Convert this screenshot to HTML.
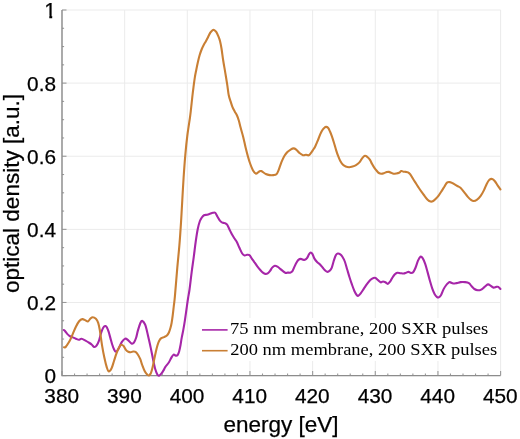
<!DOCTYPE html><html><head><meta charset="utf-8"><style>html,body{margin:0;padding:0;background:#fff}svg{display:block}</style></head><body>
<svg width="520" height="439" viewBox="0 0 520 439">
<rect width="520" height="439" fill="#fff"/>
<g stroke="#ebebeb" stroke-width="1"><line x1="62.00" y1="10.0" x2="62.00" y2="375.6"/><line x1="124.66" y1="10.0" x2="124.66" y2="375.6"/><line x1="187.31" y1="10.0" x2="187.31" y2="375.6"/><line x1="249.97" y1="10.0" x2="249.97" y2="375.6"/><line x1="312.63" y1="10.0" x2="312.63" y2="375.6"/><line x1="375.29" y1="10.0" x2="375.29" y2="375.6"/><line x1="437.94" y1="10.0" x2="437.94" y2="375.6"/><line x1="500.60" y1="10.0" x2="500.60" y2="375.6"/><line x1="62.0" y1="375.60" x2="500.6" y2="375.60"/><line x1="62.0" y1="302.48" x2="500.6" y2="302.48"/><line x1="62.0" y1="229.36" x2="500.6" y2="229.36"/><line x1="62.0" y1="156.24" x2="500.6" y2="156.24"/><line x1="62.0" y1="83.12" x2="500.6" y2="83.12"/><line x1="62.0" y1="10.00" x2="500.6" y2="10.00"/></g>
<g stroke="#999" stroke-width="1.1"><line x1="62.0" y1="375.60" x2="66.5" y2="375.60"/><line x1="62.0" y1="357.32" x2="64.1" y2="357.32"/><line x1="62.0" y1="339.04" x2="64.1" y2="339.04"/><line x1="62.0" y1="320.76" x2="64.1" y2="320.76"/><line x1="62.0" y1="302.48" x2="66.5" y2="302.48"/><line x1="62.0" y1="284.20" x2="64.1" y2="284.20"/><line x1="62.0" y1="265.92" x2="64.1" y2="265.92"/><line x1="62.0" y1="247.64" x2="64.1" y2="247.64"/><line x1="62.0" y1="229.36" x2="66.5" y2="229.36"/><line x1="62.0" y1="211.08" x2="64.1" y2="211.08"/><line x1="62.0" y1="192.80" x2="64.1" y2="192.80"/><line x1="62.0" y1="174.52" x2="64.1" y2="174.52"/><line x1="62.0" y1="156.24" x2="66.5" y2="156.24"/><line x1="62.0" y1="137.96" x2="64.1" y2="137.96"/><line x1="62.0" y1="119.68" x2="64.1" y2="119.68"/><line x1="62.0" y1="101.40" x2="64.1" y2="101.40"/><line x1="62.0" y1="83.12" x2="66.5" y2="83.12"/><line x1="62.0" y1="64.84" x2="64.1" y2="64.84"/><line x1="62.0" y1="46.56" x2="64.1" y2="46.56"/><line x1="62.0" y1="28.28" x2="64.1" y2="28.28"/><line x1="62.0" y1="10.00" x2="66.5" y2="10.00"/><line x1="62.00" y1="375.6" x2="62.00" y2="371.1"/><line x1="74.53" y1="375.6" x2="74.53" y2="373.5"/><line x1="87.06" y1="375.6" x2="87.06" y2="373.5"/><line x1="99.59" y1="375.6" x2="99.59" y2="373.5"/><line x1="112.13" y1="375.6" x2="112.13" y2="373.5"/><line x1="124.66" y1="375.6" x2="124.66" y2="371.1"/><line x1="137.19" y1="375.6" x2="137.19" y2="373.5"/><line x1="149.72" y1="375.6" x2="149.72" y2="373.5"/><line x1="162.25" y1="375.6" x2="162.25" y2="373.5"/><line x1="174.78" y1="375.6" x2="174.78" y2="373.5"/><line x1="187.31" y1="375.6" x2="187.31" y2="371.1"/><line x1="199.85" y1="375.6" x2="199.85" y2="373.5"/><line x1="212.38" y1="375.6" x2="212.38" y2="373.5"/><line x1="224.91" y1="375.6" x2="224.91" y2="373.5"/><line x1="237.44" y1="375.6" x2="237.44" y2="373.5"/><line x1="249.97" y1="375.6" x2="249.97" y2="371.1"/><line x1="262.50" y1="375.6" x2="262.50" y2="373.5"/><line x1="275.03" y1="375.6" x2="275.03" y2="373.5"/><line x1="287.57" y1="375.6" x2="287.57" y2="373.5"/><line x1="300.10" y1="375.6" x2="300.10" y2="373.5"/><line x1="312.63" y1="375.6" x2="312.63" y2="371.1"/><line x1="325.16" y1="375.6" x2="325.16" y2="373.5"/><line x1="337.69" y1="375.6" x2="337.69" y2="373.5"/><line x1="350.22" y1="375.6" x2="350.22" y2="373.5"/><line x1="362.75" y1="375.6" x2="362.75" y2="373.5"/><line x1="375.29" y1="375.6" x2="375.29" y2="371.1"/><line x1="387.82" y1="375.6" x2="387.82" y2="373.5"/><line x1="400.35" y1="375.6" x2="400.35" y2="373.5"/><line x1="412.88" y1="375.6" x2="412.88" y2="373.5"/><line x1="425.41" y1="375.6" x2="425.41" y2="373.5"/><line x1="437.94" y1="375.6" x2="437.94" y2="371.1"/><line x1="450.47" y1="375.6" x2="450.47" y2="373.5"/><line x1="463.01" y1="375.6" x2="463.01" y2="373.5"/><line x1="475.54" y1="375.6" x2="475.54" y2="373.5"/><line x1="488.07" y1="375.6" x2="488.07" y2="373.5"/><line x1="500.60" y1="375.6" x2="500.60" y2="371.1"/></g>
<path d="M62.0,10.0 L62.0,375.6 L500.6,375.6" fill="none" stroke="#8c8c8c" stroke-width="1.4"/>
<path d="M63.80,330.00 C64.00,330.17 64.43,330.35 65.00,331.00 C65.57,331.65 66.43,333.07 67.20,333.90 C67.97,334.73 68.67,335.42 69.60,336.00 C70.53,336.58 71.75,336.95 72.80,337.40 C73.85,337.85 74.90,338.30 75.90,338.70 C76.90,339.10 77.87,339.80 78.80,339.80 C79.73,339.80 80.38,338.57 81.50,338.70 C82.62,338.83 84.17,339.88 85.50,340.60 C86.83,341.32 88.43,342.30 89.50,343.00 C90.57,343.70 91.10,344.13 91.90,344.80 C92.70,345.47 93.50,346.90 94.30,347.00 C95.10,347.10 95.90,346.52 96.70,345.40 C97.50,344.28 98.48,341.98 99.10,340.30 C99.72,338.62 99.88,337.03 100.40,335.30 C100.92,333.57 101.60,331.33 102.20,329.90 C102.80,328.47 103.47,327.35 104.00,326.70 C104.53,326.05 104.93,325.90 105.40,326.00 C105.87,326.10 106.27,326.35 106.80,327.30 C107.33,328.25 108.00,329.90 108.60,331.70 C109.20,333.50 109.80,335.97 110.40,338.10 C111.00,340.23 111.58,342.60 112.20,344.50 C112.82,346.40 113.48,348.30 114.10,349.50 C114.72,350.70 115.22,351.75 115.90,351.70 C116.58,351.65 117.20,350.83 118.20,349.20 C119.20,347.57 120.75,343.65 121.90,341.90 C123.05,340.15 124.03,338.97 125.10,338.70 C126.17,338.43 127.23,339.50 128.30,340.30 C129.37,341.10 130.57,343.10 131.50,343.50 C132.43,343.90 133.12,343.70 133.90,342.70 C134.68,341.70 135.55,339.47 136.20,337.50 C136.85,335.53 137.08,333.37 137.80,330.90 C138.52,328.43 139.73,324.37 140.50,322.70 C141.27,321.03 141.63,320.60 142.40,320.90 C143.17,321.20 144.38,322.98 145.10,324.50 C145.82,326.02 146.10,327.63 146.70,330.00 C147.30,332.37 148.00,335.60 148.70,338.70 C149.40,341.80 150.17,345.13 150.90,348.60 C151.63,352.07 152.37,356.05 153.10,359.50 C153.83,362.95 154.57,366.75 155.30,369.30 C156.03,371.85 156.87,373.73 157.50,374.80 C158.13,375.87 158.47,375.88 159.10,375.70 C159.73,375.52 160.57,374.58 161.30,373.70 C162.03,372.82 162.82,371.55 163.50,370.40 C164.18,369.25 164.52,368.12 165.40,366.80 C166.28,365.48 167.80,364.03 168.80,362.50 C169.80,360.97 170.60,358.92 171.40,357.60 C172.20,356.28 172.88,354.93 173.60,354.60 C174.32,354.27 175.03,355.52 175.70,355.60 C176.37,355.68 177.02,355.83 177.60,355.10 C178.18,354.37 178.72,352.85 179.20,351.20 C179.68,349.55 180.08,347.42 180.50,345.20 C180.92,342.98 181.23,340.45 181.70,337.90 C182.17,335.35 182.77,332.83 183.30,329.90 C183.83,326.97 184.37,323.77 184.90,320.30 C185.43,316.83 185.97,312.82 186.50,309.10 C187.03,305.38 187.58,301.35 188.10,298.00 C188.62,294.65 189.00,293.37 189.60,289.00 C190.20,284.63 191.02,277.07 191.70,271.80 C192.38,266.53 193.02,262.53 193.70,257.40 C194.38,252.27 195.12,245.78 195.80,241.00 C196.48,236.22 197.12,232.03 197.80,228.70 C198.48,225.37 199.23,222.87 199.90,221.00 C200.57,219.13 201.12,218.47 201.80,217.50 C202.48,216.53 203.10,215.67 204.00,215.20 C204.90,214.73 206.13,214.97 207.20,214.70 C208.27,214.43 209.47,213.92 210.40,213.60 C211.33,213.28 212.00,212.93 212.80,212.80 C213.60,212.67 214.42,212.15 215.20,212.80 C215.98,213.45 216.72,215.38 217.50,216.70 C218.28,218.02 219.10,219.72 219.90,220.70 C220.70,221.68 221.50,222.20 222.30,222.60 C223.10,223.00 223.90,222.75 224.70,223.10 C225.50,223.45 226.30,223.63 227.10,224.70 C227.90,225.77 228.70,227.90 229.50,229.50 C230.30,231.10 231.10,232.83 231.90,234.30 C232.70,235.77 233.50,237.05 234.30,238.30 C235.10,239.55 235.87,240.27 236.70,241.80 C237.53,243.33 238.38,245.55 239.30,247.50 C240.22,249.45 241.32,252.18 242.20,253.50 C243.08,254.82 243.80,255.18 244.60,255.40 C245.40,255.62 246.20,254.85 247.00,254.80 C247.80,254.75 248.62,254.52 249.40,255.10 C250.18,255.68 250.92,257.18 251.70,258.30 C252.48,259.42 253.17,260.47 254.10,261.80 C255.03,263.13 256.23,264.90 257.30,266.30 C258.37,267.70 259.57,269.15 260.50,270.20 C261.43,271.25 262.10,271.98 262.90,272.60 C263.70,273.22 264.50,273.77 265.30,273.90 C266.10,274.03 266.90,273.90 267.70,273.40 C268.50,272.90 269.35,271.87 270.10,270.90 C270.85,269.93 271.42,268.45 272.20,267.60 C272.98,266.75 273.92,265.95 274.80,265.80 C275.68,265.65 276.58,266.18 277.50,266.70 C278.42,267.22 279.38,268.15 280.30,268.90 C281.22,269.65 282.10,270.52 283.00,271.20 C283.90,271.88 284.90,272.77 285.70,273.00 C286.50,273.23 287.00,272.67 287.80,272.60 C288.60,272.53 289.70,272.90 290.50,272.60 C291.30,272.30 291.92,271.83 292.60,270.80 C293.28,269.77 293.92,267.82 294.60,266.40 C295.28,264.98 296.02,263.43 296.70,262.30 C297.38,261.17 298.02,260.17 298.70,259.60 C299.38,259.03 300.12,258.90 300.80,258.90 C301.48,258.90 302.12,259.45 302.80,259.60 C303.48,259.75 304.20,260.03 304.90,259.80 C305.60,259.57 306.30,259.15 307.00,258.20 C307.70,257.25 308.48,255.05 309.10,254.10 C309.72,253.15 310.13,252.50 310.70,252.50 C311.27,252.50 311.85,253.03 312.50,254.10 C313.15,255.17 313.80,257.53 314.60,258.90 C315.40,260.27 316.40,261.38 317.30,262.30 C318.20,263.22 319.08,263.48 320.00,264.40 C320.92,265.32 321.88,266.73 322.80,267.80 C323.72,268.87 324.70,270.12 325.50,270.80 C326.30,271.48 326.92,271.90 327.60,271.90 C328.28,271.90 328.92,271.48 329.60,270.80 C330.28,270.12 331.02,269.43 331.70,267.80 C332.38,266.17 333.02,263.10 333.70,261.00 C334.38,258.90 335.12,256.45 335.80,255.20 C336.48,253.95 337.05,253.65 337.80,253.50 C338.55,253.35 339.53,253.77 340.30,254.30 C341.07,254.83 341.65,255.50 342.40,256.70 C343.15,257.90 344.00,259.37 344.80,261.50 C345.60,263.63 346.40,266.83 347.20,269.50 C348.00,272.17 348.80,274.97 349.60,277.50 C350.40,280.03 351.20,282.45 352.00,284.70 C352.80,286.95 353.62,289.28 354.40,291.00 C355.18,292.72 356.05,294.20 356.70,295.00 C357.35,295.80 357.63,296.07 358.30,295.80 C358.97,295.53 359.77,294.60 360.70,293.40 C361.63,292.20 362.83,290.18 363.90,288.60 C364.97,287.02 366.03,285.35 367.10,283.90 C368.17,282.45 369.23,280.88 370.30,279.90 C371.37,278.92 372.62,278.32 373.50,278.00 C374.38,277.68 374.92,277.70 375.60,278.00 C376.28,278.30 376.77,279.08 377.60,279.80 C378.43,280.52 379.70,282.02 380.60,282.30 C381.50,282.58 382.20,281.50 383.00,281.50 C383.80,281.50 384.60,281.90 385.40,282.30 C386.20,282.70 387.00,284.03 387.80,283.90 C388.60,283.77 389.42,282.57 390.20,281.50 C390.98,280.43 391.72,278.70 392.50,277.50 C393.28,276.30 394.10,275.10 394.90,274.30 C395.70,273.50 396.37,272.88 397.30,272.70 C398.23,272.52 399.43,273.07 400.50,273.20 C401.57,273.33 402.77,273.58 403.70,273.50 C404.63,273.42 405.30,272.97 406.10,272.70 C406.90,272.43 407.70,271.85 408.50,271.90 C409.30,271.95 410.12,272.95 410.90,273.00 C411.68,273.05 412.45,273.03 413.20,272.20 C413.95,271.37 414.60,269.92 415.40,268.00 C416.20,266.08 417.17,262.58 418.00,260.70 C418.83,258.82 419.60,257.10 420.40,256.70 C421.20,256.30 422.00,257.10 422.80,258.30 C423.60,259.50 424.42,261.63 425.20,263.90 C425.98,266.17 426.72,269.10 427.50,271.90 C428.28,274.70 429.10,277.92 429.90,280.70 C430.70,283.48 431.50,286.35 432.30,288.60 C433.10,290.85 433.90,292.78 434.70,294.20 C435.50,295.62 436.43,296.57 437.10,297.10 C437.77,297.63 438.03,297.75 438.70,297.40 C439.37,297.05 440.30,296.33 441.10,295.00 C441.90,293.67 442.70,290.98 443.50,289.40 C444.30,287.82 445.12,286.57 445.90,285.50 C446.68,284.43 447.55,283.57 448.20,283.00 C448.85,282.43 448.97,282.02 449.80,282.10 C450.63,282.18 452.07,283.33 453.20,283.50 C454.33,283.67 455.35,283.33 456.60,283.10 C457.85,282.87 459.33,282.27 460.70,282.10 C462.07,281.93 463.43,281.93 464.80,282.10 C466.17,282.27 467.77,282.42 468.90,283.10 C470.03,283.78 470.68,285.22 471.60,286.20 C472.52,287.18 473.37,288.32 474.40,289.00 C475.43,289.68 476.67,290.20 477.80,290.30 C478.93,290.40 480.07,290.17 481.20,289.60 C482.33,289.03 483.47,287.77 484.60,286.90 C485.73,286.03 486.97,284.58 488.00,284.40 C489.03,284.22 489.88,285.27 490.80,285.80 C491.72,286.33 492.58,287.42 493.50,287.60 C494.42,287.78 495.50,287.02 496.30,286.90 C497.10,286.78 497.62,286.55 498.30,286.90 C498.98,287.25 500.05,288.65 500.40,289.00" fill="none" stroke="#a626a8" stroke-width="2.1" stroke-linejoin="round" stroke-linecap="round"/>
<path d="M64.00,347.20 C64.20,347.23 64.80,347.62 65.20,347.40 C65.60,347.18 65.67,346.95 66.40,345.90 C67.13,344.85 68.53,343.10 69.60,341.10 C70.67,339.10 71.75,336.30 72.80,333.90 C73.85,331.50 74.85,328.82 75.90,326.70 C76.95,324.58 78.03,322.47 79.10,321.20 C80.17,319.93 81.23,319.23 82.30,319.10 C83.37,318.97 84.57,320.00 85.50,320.40 C86.43,320.80 87.10,321.77 87.90,321.50 C88.70,321.23 89.50,319.52 90.30,318.80 C91.10,318.08 91.77,317.20 92.70,317.20 C93.63,317.20 94.98,317.87 95.90,318.80 C96.82,319.73 97.55,320.93 98.20,322.80 C98.85,324.67 99.17,326.28 99.80,330.00 C100.43,333.72 101.23,340.47 102.00,345.10 C102.77,349.73 103.60,354.08 104.40,357.80 C105.20,361.52 106.07,365.13 106.80,367.40 C107.53,369.67 108.00,371.27 108.80,371.40 C109.60,371.53 110.73,369.93 111.60,368.20 C112.47,366.47 113.22,363.38 114.00,361.00 C114.78,358.62 115.52,356.02 116.30,353.90 C117.08,351.78 117.90,349.82 118.70,348.30 C119.50,346.78 120.30,345.20 121.10,344.80 C121.90,344.40 122.70,345.05 123.50,345.90 C124.30,346.75 125.10,348.92 125.90,349.90 C126.70,350.88 127.50,351.40 128.30,351.80 C129.10,352.20 129.90,352.35 130.70,352.30 C131.50,352.25 132.30,351.58 133.10,351.50 C133.90,351.42 134.72,351.30 135.50,351.80 C136.28,352.30 137.00,353.27 137.80,354.50 C138.60,355.73 139.57,357.45 140.30,359.20 C141.03,360.95 141.43,362.95 142.20,365.00 C142.97,367.05 143.98,369.83 144.90,371.50 C145.82,373.17 146.97,374.35 147.70,375.00 C148.43,375.65 148.77,375.70 149.30,375.40 C149.83,375.10 150.35,374.57 150.90,373.20 C151.45,371.83 152.05,369.48 152.60,367.20 C153.15,364.92 153.67,362.05 154.20,359.50 C154.73,356.95 155.25,354.27 155.80,351.90 C156.35,349.53 156.95,347.13 157.50,345.30 C158.05,343.47 158.47,342.08 159.10,340.90 C159.73,339.72 160.48,338.83 161.30,338.20 C162.12,337.57 163.07,337.55 164.00,337.10 C164.93,336.65 166.08,336.27 166.90,335.50 C167.72,334.73 168.30,333.78 168.90,332.50 C169.50,331.22 170.05,329.38 170.50,327.80 C170.95,326.22 171.23,325.05 171.60,323.00 C171.97,320.95 172.33,318.33 172.70,315.50 C173.07,312.67 173.43,309.18 173.80,306.00 C174.17,302.82 174.32,302.78 174.90,296.40 C175.48,290.02 176.55,276.25 177.30,267.70 C178.05,259.15 178.78,252.62 179.40,245.10 C180.02,237.58 180.52,230.12 181.00,222.60 C181.48,215.08 181.87,207.48 182.30,200.00 C182.73,192.52 183.10,185.18 183.60,177.70 C184.10,170.22 184.67,162.22 185.30,155.10 C185.93,147.98 186.63,141.18 187.40,135.00 C188.17,128.82 189.32,122.17 189.90,118.00 C190.48,113.83 190.50,113.50 190.90,110.00 C191.30,106.50 191.87,100.80 192.30,97.00 C192.73,93.20 193.08,90.43 193.50,87.20 C193.92,83.97 194.33,80.52 194.80,77.60 C195.27,74.68 195.80,72.22 196.30,69.70 C196.80,67.18 197.25,64.90 197.80,62.50 C198.35,60.10 198.97,57.47 199.60,55.30 C200.23,53.13 200.92,51.22 201.60,49.50 C202.28,47.78 202.98,46.38 203.70,45.00 C204.42,43.62 205.20,42.47 205.90,41.20 C206.60,39.93 207.17,38.82 207.90,37.40 C208.63,35.98 209.50,33.92 210.30,32.70 C211.10,31.48 212.03,30.53 212.70,30.10 C213.37,29.67 213.68,29.75 214.30,30.10 C214.92,30.45 215.73,31.18 216.40,32.20 C217.07,33.22 217.70,34.73 218.30,36.20 C218.90,37.67 219.47,38.95 220.00,41.00 C220.53,43.05 220.97,45.25 221.50,48.50 C222.03,51.75 222.57,56.45 223.20,60.50 C223.83,64.55 224.62,68.70 225.30,72.80 C225.98,76.90 226.73,81.40 227.30,85.10 C227.87,88.80 228.15,92.28 228.70,95.00 C229.25,97.72 229.98,99.43 230.60,101.40 C231.22,103.37 231.72,105.13 232.40,106.80 C233.08,108.47 233.95,109.98 234.70,111.40 C235.45,112.82 236.22,113.78 236.90,115.30 C237.58,116.82 238.18,118.45 238.80,120.50 C239.42,122.55 239.87,124.87 240.60,127.60 C241.33,130.33 242.37,133.58 243.20,136.90 C244.03,140.22 244.80,144.20 245.60,147.50 C246.40,150.80 247.22,153.95 248.00,156.70 C248.78,159.45 249.48,161.75 250.30,164.00 C251.12,166.25 252.13,168.72 252.90,170.20 C253.67,171.68 254.30,172.33 254.90,172.90 C255.50,173.47 255.78,173.83 256.50,173.60 C257.22,173.37 258.40,171.92 259.20,171.50 C260.00,171.08 260.20,170.68 261.30,171.10 C262.40,171.52 264.40,173.33 265.80,174.00 C267.20,174.67 268.42,174.92 269.70,175.10 C270.98,175.28 272.38,175.23 273.50,175.10 C274.62,174.97 275.60,175.00 276.40,174.30 C277.20,173.60 277.67,172.35 278.30,170.90 C278.93,169.45 279.57,167.32 280.20,165.60 C280.83,163.88 281.38,162.23 282.10,160.60 C282.82,158.97 283.62,157.23 284.50,155.80 C285.38,154.37 286.43,153.00 287.40,152.00 C288.37,151.00 289.28,150.40 290.30,149.80 C291.32,149.20 292.52,148.43 293.50,148.40 C294.48,148.37 295.20,148.83 296.20,149.60 C297.20,150.37 298.37,152.07 299.50,153.00 C300.63,153.93 301.92,154.90 303.00,155.20 C304.08,155.50 305.07,154.78 306.00,154.80 C306.93,154.82 307.80,155.57 308.60,155.30 C309.40,155.03 310.08,154.07 310.80,153.20 C311.52,152.33 312.18,151.18 312.90,150.10 C313.62,149.02 314.45,147.92 315.10,146.70 C315.75,145.48 316.22,144.17 316.80,142.80 C317.38,141.43 318.02,139.95 318.60,138.50 C319.18,137.05 319.73,135.40 320.30,134.10 C320.87,132.80 321.43,131.65 322.00,130.70 C322.57,129.75 323.05,129.03 323.70,128.40 C324.35,127.77 325.18,127.00 325.90,126.90 C326.62,126.80 327.32,127.03 328.00,127.80 C328.68,128.57 329.33,130.03 330.00,131.50 C330.67,132.97 331.32,134.65 332.00,136.60 C332.68,138.55 333.42,140.95 334.10,143.20 C334.78,145.45 335.42,147.93 336.10,150.10 C336.78,152.27 337.50,154.38 338.20,156.20 C338.90,158.02 339.50,159.57 340.30,161.00 C341.10,162.43 342.10,163.88 343.00,164.80 C343.90,165.72 344.68,166.10 345.70,166.50 C346.72,166.90 347.95,167.20 349.10,167.20 C350.25,167.20 351.45,166.85 352.60,166.50 C353.75,166.15 354.87,165.78 356.00,165.10 C357.13,164.42 358.38,163.53 359.40,162.40 C360.42,161.27 361.18,159.40 362.10,158.30 C363.02,157.20 363.98,155.98 364.90,155.80 C365.82,155.62 366.75,156.52 367.60,157.20 C368.45,157.88 369.25,158.75 370.00,159.90 C370.75,161.05 371.37,162.78 372.10,164.10 C372.83,165.42 373.63,166.68 374.40,167.80 C375.17,168.92 375.95,169.93 376.70,170.80 C377.45,171.67 378.15,172.52 378.90,173.00 C379.65,173.48 380.37,173.67 381.20,173.70 C382.03,173.73 382.98,173.47 383.90,173.20 C384.82,172.93 385.85,172.32 386.70,172.10 C387.55,171.88 388.25,171.78 389.00,171.90 C389.75,172.02 390.45,172.50 391.20,172.80 C391.95,173.10 392.67,173.58 393.50,173.70 C394.33,173.82 395.28,173.65 396.20,173.50 C397.12,173.35 398.15,173.20 399.00,172.80 C399.85,172.40 400.55,171.28 401.30,171.10 C402.05,170.92 402.75,171.57 403.50,171.70 C404.25,171.83 405.05,171.78 405.80,171.90 C406.55,172.02 407.28,172.02 408.00,172.40 C408.72,172.78 409.32,173.22 410.10,174.20 C410.88,175.18 411.83,176.93 412.70,178.30 C413.57,179.67 414.37,180.93 415.30,182.40 C416.23,183.87 417.28,185.55 418.30,187.10 C419.32,188.65 420.37,190.25 421.40,191.70 C422.43,193.15 423.47,194.47 424.50,195.80 C425.53,197.13 426.58,198.73 427.60,199.70 C428.62,200.67 429.67,201.38 430.60,201.60 C431.53,201.82 432.33,201.47 433.20,201.00 C434.07,200.53 434.87,199.75 435.80,198.80 C436.73,197.85 437.78,196.67 438.80,195.30 C439.82,193.93 440.95,192.07 441.90,190.60 C442.85,189.13 443.65,187.83 444.50,186.50 C445.35,185.17 446.12,183.33 447.00,182.60 C447.88,181.87 448.77,181.95 449.80,182.10 C450.83,182.25 451.95,182.85 453.20,183.50 C454.45,184.15 456.05,185.25 457.30,186.00 C458.55,186.75 459.57,186.98 460.70,188.00 C461.83,189.02 462.95,190.67 464.10,192.10 C465.25,193.53 466.45,195.30 467.60,196.60 C468.75,197.90 469.98,199.17 471.00,199.90 C472.02,200.63 472.68,201.05 473.70,201.00 C474.72,200.95 475.97,200.40 477.10,199.60 C478.23,198.80 479.35,197.78 480.50,196.20 C481.65,194.62 482.97,192.15 484.00,190.10 C485.03,188.05 485.80,185.62 486.70,183.90 C487.60,182.18 488.48,180.63 489.40,179.80 C490.32,178.97 491.28,178.67 492.20,178.90 C493.12,179.13 494.00,180.13 494.90,181.20 C495.80,182.27 496.68,183.93 497.60,185.30 C498.52,186.67 499.93,188.72 500.40,189.40" fill="none" stroke="#c97f34" stroke-width="2.1" stroke-linejoin="round" stroke-linecap="round"/>
<rect x="198" y="318" width="301" height="43" fill="#fff"/>
<line x1="202" y1="329.9" x2="227.6" y2="329.9" stroke="#a626a8" stroke-width="1.6"/>
<line x1="202" y1="350.7" x2="227.6" y2="350.7" stroke="#c97f34" stroke-width="1.6"/>
<text x="230.1" y="334.2" font-family="Liberation Serif, serif" font-size="16.3" fill="#000" textLength="258.2" lengthAdjust="spacingAndGlyphs">75 nm membrane, 200 SXR pulses</text>
<text x="230.3" y="354.7" font-family="Liberation Serif, serif" font-size="16.3" fill="#000" textLength="266.8" lengthAdjust="spacingAndGlyphs">200 nm membrane, 200 SXR pulses</text>
<defs><clipPath id="c1"><rect x="30" y="0" width="30" height="15.4"/><rect x="49.3" y="0" width="2.9" height="22"/></clipPath></defs>
<text x="56" y="383.35" font-family="Liberation Sans, Arial, sans-serif" stroke="#000" stroke-width="0.25" font-size="20.8" text-anchor="end" fill="#000">0</text>
<text x="56" y="310.23" font-family="Liberation Sans, Arial, sans-serif" stroke="#000" stroke-width="0.25" font-size="20.8" text-anchor="end" fill="#000">0.2</text>
<text x="56" y="237.11" font-family="Liberation Sans, Arial, sans-serif" stroke="#000" stroke-width="0.25" font-size="20.8" text-anchor="end" fill="#000">0.4</text>
<text x="56" y="163.99" font-family="Liberation Sans, Arial, sans-serif" stroke="#000" stroke-width="0.25" font-size="20.8" text-anchor="end" fill="#000">0.6</text>
<text x="56" y="90.87" font-family="Liberation Sans, Arial, sans-serif" stroke="#000" stroke-width="0.25" font-size="20.8" text-anchor="end" fill="#000">0.8</text>
<text x="56" y="18.00" font-family="Liberation Sans, Arial, sans-serif" stroke="#000" stroke-width="0.25" font-size="21.3" text-anchor="end" fill="#000" clip-path="url(#c1)">1</text>
<text x="61.70" y="402.7" font-family="Liberation Sans, Arial, sans-serif" stroke="#000" stroke-width="0.25" font-size="20.8" text-anchor="middle" fill="#000">380</text>
<text x="124.36" y="402.7" font-family="Liberation Sans, Arial, sans-serif" stroke="#000" stroke-width="0.25" font-size="20.8" text-anchor="middle" fill="#000">390</text>
<text x="187.01" y="402.7" font-family="Liberation Sans, Arial, sans-serif" stroke="#000" stroke-width="0.25" font-size="20.8" text-anchor="middle" fill="#000">400</text>
<text x="249.67" y="402.7" font-family="Liberation Sans, Arial, sans-serif" stroke="#000" stroke-width="0.25" font-size="20.8" text-anchor="middle" fill="#000">410</text>
<text x="312.33" y="402.7" font-family="Liberation Sans, Arial, sans-serif" stroke="#000" stroke-width="0.25" font-size="20.8" text-anchor="middle" fill="#000">420</text>
<text x="374.99" y="402.7" font-family="Liberation Sans, Arial, sans-serif" stroke="#000" stroke-width="0.25" font-size="20.8" text-anchor="middle" fill="#000">430</text>
<text x="437.64" y="402.7" font-family="Liberation Sans, Arial, sans-serif" stroke="#000" stroke-width="0.25" font-size="20.8" text-anchor="middle" fill="#000">440</text>
<text x="500.30" y="402.7" font-family="Liberation Sans, Arial, sans-serif" stroke="#000" stroke-width="0.25" font-size="20.8" text-anchor="middle" fill="#000">450</text>
<text x="281" y="431.6" font-family="Liberation Sans, Arial, sans-serif" stroke="#000" stroke-width="0.25" font-size="22.5" text-anchor="middle" fill="#000">energy [eV]</text>
<text transform="translate(18.7,193.5) rotate(-90)" x="0" y="0" font-family="Liberation Sans, Arial, sans-serif" stroke="#000" stroke-width="0.25" font-size="22.5" text-anchor="middle" fill="#000">optical density [a.u.]</text>
</svg></body></html>
